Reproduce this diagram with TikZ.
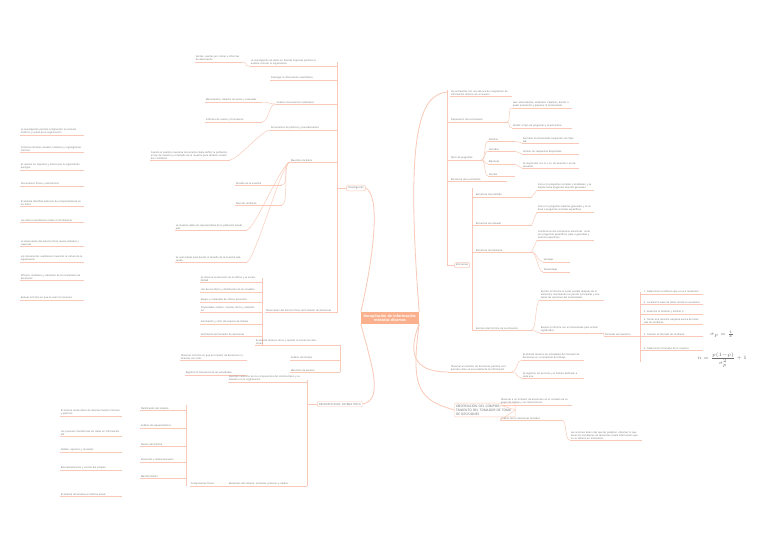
\documentclass[tikz,border=0pt]{standalone}
\usepackage{fontspec}
\setmainfont{Open Sans}
\definecolor{ln}{RGB}{250,200,182}
\definecolor{ctr}{RGB}{250,176,140}
\definecolor{tx}{RGB}{110,110,110}
\begin{document}
\begin{tikzpicture}[x=1pt,y=-1pt,
  lf/.style={font=\fontsize{2.4}{2.9}\selectfont, text=tx, align=left, anchor=south west, inner sep=0.6pt, text width=#1,
    append after command={(\tikzlastnode.south west) edge[ln, line width=0.35pt] (\tikzlastnode.south east)}},
  lf/.default=60pt,
  bx/.style={font=\fontsize{2.6}{3.1}\selectfont, text=tx, draw=ln, line width=0.4pt, rounded corners=1pt, inner sep=1.5pt, align=left},
  con/.style={ln, line width=0.45pt},
  thick con/.style={ln, line width=0.8pt}]
\useasboundingbox (0,0) rectangle (768,543);
\fill[white] (0,0) rectangle (768,543);
\coordinate (xa) at (337,0);
\coordinate (xb) at (447,0);
\coordinate (xc) at (340,0);
\coordinate (xd) at (307,0);
% centre
\node[fill=ctr, text=white, font=\fontsize{3.6}{4.3}\selectfont\bfseries, align=center, inner sep=2pt, text width=54pt] (c) at (390,318) {Recopilación de información:\\ métodos diversos};
% main branches
\node[bx] (inv) at (356,188) {Investigación};
\node[bx, font=\fontsize{2.4}{2.9}\selectfont] (ent) at (462,265) {Entrevistas};
\node[bx, font=\fontsize{3.2}{3.8}\selectfont, text width=58pt] (obs) at (485,410) {OBSERVACIÓN DEL COMPORTAMIENTO DEL TOMADOR DE TOMA DE DECISIONES};
\node[bx, font=\fontsize{2.6}{3.1}\selectfont] (des) at (340,404) {DESCRIPCIÓN DEL SISTEMA TÍPICO};
\draw[thick con] (c.north west) .. controls (375,250) and (380,195) .. (inv.east);
\draw[thick con] (c.north east) .. controls (405,130) and (420,95) .. (447,92);
\draw[thick con] (c.south east) .. controls (405,360) and (420,372) .. (448,372);
\draw[thick con] (c.south east) .. controls (410,390) and (420,400) .. (obs.west);
\draw[thick con] (c.south west) .. controls (370,360) and (385,400) .. (des.east);
% ---------- Investigación (left top)
\draw[con] (inv.west) -- (337,188);
\draw[con] (337,62) -- (337,312);
\node[lf=70pt] (i1) at (250,66) {La investigación de datos en fuentes impresas permite al analista conocer la organización.};
\node[lf=55pt] (i2) at (270,80) {Investigar la información cuantitativa};
\node[lf=55pt] (i3) at (276,104) {Analizar documentos cualitativos};
\node[lf=55pt] (i4) at (270,130) {Documentos de políticas y procedimientos};
\node[lf=45pt] (i5) at (290,162) {Muestreo de datos};
\node[lf=70pt] (i6) at (265,312) {Observación del entorno físico del tomador de decisiones};
\foreach \n in {i1,i2,i3,i4,i5,i6}{\draw[con] (\n.south east) -- (\n.south east -| xa);}
\node[lf=45pt] (i1a) at (195,62) {Ventas, cuentas por cobrar e informes de desempeño};
\node[lf=55pt] (i2a) at (205,102) {Memorandos, tableros de avisos y manuales};
\node[lf=55pt] (i2b) at (205,122) {Informes de cuotas y formularios};
\node[lf=78pt] (i3a) at (150,160) {Cuando el analista muestrea documentos debe definir la población, el tipo de muestra y el tamaño de la muestra para obtener resultados confiables.};
\node[lf=45pt] (i5a) at (235,185) {Tamaño de la muestra};
\node[lf=45pt] (i5b) at (235,205) {Nivel de confianza};
\node[lf=70pt] (i5c) at (175,230) {La muestra debe ser representativa de la población estudiada.};
\node[lf=70pt] (i5d) at (175,262) {Se usan tablas para decidir el tamaño de la muestra adecuado};
\foreach \n/\p in {i1a/i1,i2a/i3,i2b/i3,i3a/i4,i5a/i5,i5b/i5,i5c/i5,i5d/i5}{\draw[con] (\n.south east) .. controls +(8,0) and +(-8,0) .. (\p.south west);}
% far-left column
\foreach \y/\t in {135/{La investigación permite comprender el contexto histórico y actual de la organización},
  152/{Contiene informes anuales, boletines y organigramas internos},
  170/{Se revisan los objetivos y metas que la organización persigue},
  186/{Documentos físicos y electrónicos},
  206/{El analista identifica patrones de comportamiento en los datos},
  222/{Los datos cuantitativos miden el rendimiento},
  246/{La observación del entorno físico revela actitudes y creencias},
  262/{Los documentos cualitativos muestran la cultura de la organización},
  280/{Oficinas, mobiliario y ubicación de los tomadores de decisiones},
  300/{Evaluar la forma en que se usan los recursos}}
  {\node[lf=62pt] at (20,\y) {\t};}
% Investigación sub-list below (left middle)
\draw[con] (262,278) -- (262,345);
\foreach \y/\t in {282/{Se observa la ubicación de la oficina y su accesibilidad},
  292/{Uso del escritorio y distribución de los muebles},
  302/{Equipo y materiales de oficina presentes},
  312/{Propiedades visibles: revistas, libros y calendarios},
  324/{Iluminación y color del espacio de trabajo},
  336/{Vestimenta del tomador de decisiones}}
  {\node[lf=55pt] (t\y) at (200,\y) {\t}; \draw[con] (t\y.south east) -- (262,\y);}
\node[lf=65pt] (ob1) at (255,345) {El analista observa cómo y cuándo se toman las decisiones};
\node[lf=40pt] (ob2) at (290,360) {Análisis del tiempo};
\node[lf=40pt] (ob3) at (290,372) {Muestreo de eventos};
\foreach \n in {ob1,ob2,ob3}{\draw[con] (\n.south east) -- (\n.south east -| xc);}
\draw[con] (340,345) -- (340,372);
\node[lf=65pt] at (180,360) {Observar la forma en que el tomador de decisiones interactúa con otros};
\node[lf=60pt] at (185,375) {Registrar la frecuencia de las actividades};
% ---------- Descripción del sistema típico (left bottom)
\draw[con] (des.west) -- (307,404);
\draw[con] (307,380) -- (307,486);
\node[lf=75pt] (d1) at (228,382) {Describir cada uno de los componentes del sistema típico y su relación con la organización.};
\node[lf=75pt] (d2) at (228,486) {Elementos del sistema: entradas, procesos y salidas};
\foreach \n in {d1,d2}{\draw[con] (\n.south east) -- (\n.south east -| xd);}
\draw[con] (186,405) -- (186,486);
\foreach \y/\t in {410/{Planificación del sistema},428/{Análisis de requerimientos},446/{Diseño del sistema},462/{Desarrollo e implementación},478/{Mantenimiento}}
  {\node[lf=45pt] (s\y) at (140,\y) {\t}; \draw[con] (s\y.south east) -- (186,\y);}
\node[lf=35pt] (d2s) at (190,486) {Componentes físicos};
\draw[con] (d2s.south east) -- (d2.south west);
\foreach \y/\t in {416/{El sistema recibe datos de diversas fuentes internas y externas},436/{Los procesos transforman los datos en información útil},452/{Salidas: reportes y consultas},470/{Retroalimentación y control del sistema},496/{El analista documenta el sistema actual}}
  {\node[lf=60pt] at (60,\y) {\t};}
% ---------- Entrevistas (right)
\draw[con] (ent.west) -- (447,265);
\draw[con] (447,90) -- (447,265);
\node[lf=60pt] (e1) at (450,96) {Las entrevistas son una técnica de recopilación de información directa con el usuario};
\node[lf=55pt] (e2) at (450,122) {Preparación de la entrevista};
\node[lf=30pt] (e3) at (450,160) {Tipos de preguntas};
\node[lf=55pt] (e4) at (450,181) {Estructura de la entrevista};
\foreach \n in {e2,e3,e4}{\draw[con] (\n.south west -| xb) -- (\n.south west);}
\node[lf=58pt] (e2a) at (512,108) {Leer antecedentes, establecer objetivos, decidir a quién entrevistar y preparar al entrevistado.};
\node[lf=58pt] (e2b) at (512,128) {Decidir el tipo de preguntas y la estructura.};
\foreach \n in {e2a,e2b}{\draw[con] (e2.south east) .. controls +(5,0) and +(-5,0) .. (\n.south west);}
\node[lf=25pt] (q1) at (488,141) {Abiertas};
\node[lf=25pt] (q2) at (488,151) {Cerradas};
\node[lf=25pt] (q3) at (488,164) {Bipolares};
\node[lf=25pt] (q4) at (488,176) {Sondeo};
\foreach \n in {q1,q2,q3,q4}{\draw[con] (e3.south east) .. controls +(4,0) and +(-4,0) .. (\n.south west);}
\node[lf=55pt] (q1a) at (522,143) {Permiten al entrevistado responder con libertad.};
\node[lf=55pt] (q2a) at (522,154) {Limitan las respuestas disponibles.};
\node[lf=55pt] (q3a) at (522,168) {Se responden con sí o no, de acuerdo o en desacuerdo.};
\draw[con] (q1.south east) -- (q1a.south west);
\draw[con] (q2.south east) -- (q2a.south west);
\draw[con] (q3.south east) -- (q3a.south west);
\draw[con] (472,188) -- (472,330);
\foreach \y/\t in {197/{Estructura de pirámide},225/{Estructura de embudo},252/{Estructura de diamante},330/{Escritura del informe de la entrevista}}
  {\node[lf=55pt] (p\y) at (475,\y) {\t}; \draw[con] (472,\y) -- (p\y.south west);}
\foreach \y/\t in {190/{Inicia con preguntas cerradas y detalladas, y se amplía hacia preguntas abiertas generales.},212/{Inicia con preguntas abiertas generales y se reduce a preguntas cerradas específicas.},240/{Combina las dos estructuras anteriores: inicia con preguntas específicas, pasa a generales y termina específicas.}}
  {\node[lf=55pt] (pp\y) at (537,\y) {\t};}
\draw[con] (p197.south east) -- (pp190.south west);
\draw[con] (p225.south east) -- (pp212.south west);
\draw[con] (p252.south east) -- (pp240.south west);
\node[lf=25pt] (b1) at (543,262) {Ventajas}; \node[lf=25pt] (b2) at (543,272) {Desventajas};
\draw[con] (p252.south east) .. controls +(5,0) and +(-5,0) .. (b1.south west);
\draw[con] (p252.south east) .. controls +(5,0) and +(-5,0) .. (b2.south west);
\node[lf=62pt] (w1) at (540,300) {Escribir el informe lo antes posible después de la entrevista, resumiendo los puntos principales y anotando las opiniones del entrevistado.};
\draw[con] (p330.south east) .. controls +(5,0) and +(-5,0) .. (w1.south west);
\node[lf=62pt] (w2) at (540,333) {Revisar el informe con el entrevistado para aclarar significados.};
\draw[con] (p330.south east) -- (w2.south west);
\node[lf=35pt] (w3) at (604,336) {Formulas de muestreo};
\draw[con] (w2.south east) -- (w3.south west);
% right-most formulas
\draw[con] (640,292) -- (640,362);
\foreach \y/\t in {294/{1. Determinar el atributo que se va a muestrear},304/{2. Localizar la base de datos donde se encuentra},314/{3. Examinar el atributo y estimar p},324/{4. Tomar una decisión subjetiva acerca del intervalo de confianza},336/{5. Calcular el intervalo de confianza},350/{6. Determinar el tamaño de la muestra}}
  {\node[lf=58pt] (f\y) at (643,\y) {\t}; \draw[con] (640,\y) -- (f\y.south west);}
\node[font=\fontsize{4}{5}\selectfont, text=tx, inner sep=0pt] (fa) at (722,334) {$\sigma_p=\frac{i}{z}$};
\node[font=\fontsize{4}{5}\selectfont, text=tx, inner sep=0pt] (fb) at (722,360) {$n=\frac{p(1-p)}{\sigma_p^2}+1$};
% ---------- Observación del comportamiento (right bottom)
\node[lf=60pt] (o1) at (450,372) {Observar al tomador de decisiones permite comprender cómo se usa realmente la información};
\draw[con] (448,372) -- (o1.south west);
\node[lf=60pt] (o1a) at (522,360) {El analista observa las actividades del tomador de decisiones en su ambiente de trabajo.};
\node[lf=60pt] (o1b) at (522,378) {Se registran las acciones y el tiempo dedicado a cada una.};
\draw[con] (o1.south east) .. controls +(6,0) and +(-6,0) .. (o1a.south west);
\draw[con] (o1.south east) .. controls +(6,0) and +(-6,0) .. (o1b.south west);
\node[lf=70pt] (o2) at (500,405) {Observar a un tomador de decisiones en el contexto de su grupo de trabajo y sus interacciones.};
\node[lf=60pt] (o3) at (500,420) {Análisis de las decisiones tomadas};
\draw[con] (obs.east) -- (o2.south west);
\draw[con] (obs.east) -- (o3.south west);
\node[lf=70pt] (o3a) at (570,440) {Las acciones dicen más que las palabras: observar lo que hacen los tomadores de decisiones revela información que no se obtiene en entrevistas.};
\draw[con] (o3.south east) .. controls +(6,0) and +(-6,0) .. (o3a.south west);
\end{tikzpicture}
\end{document}
